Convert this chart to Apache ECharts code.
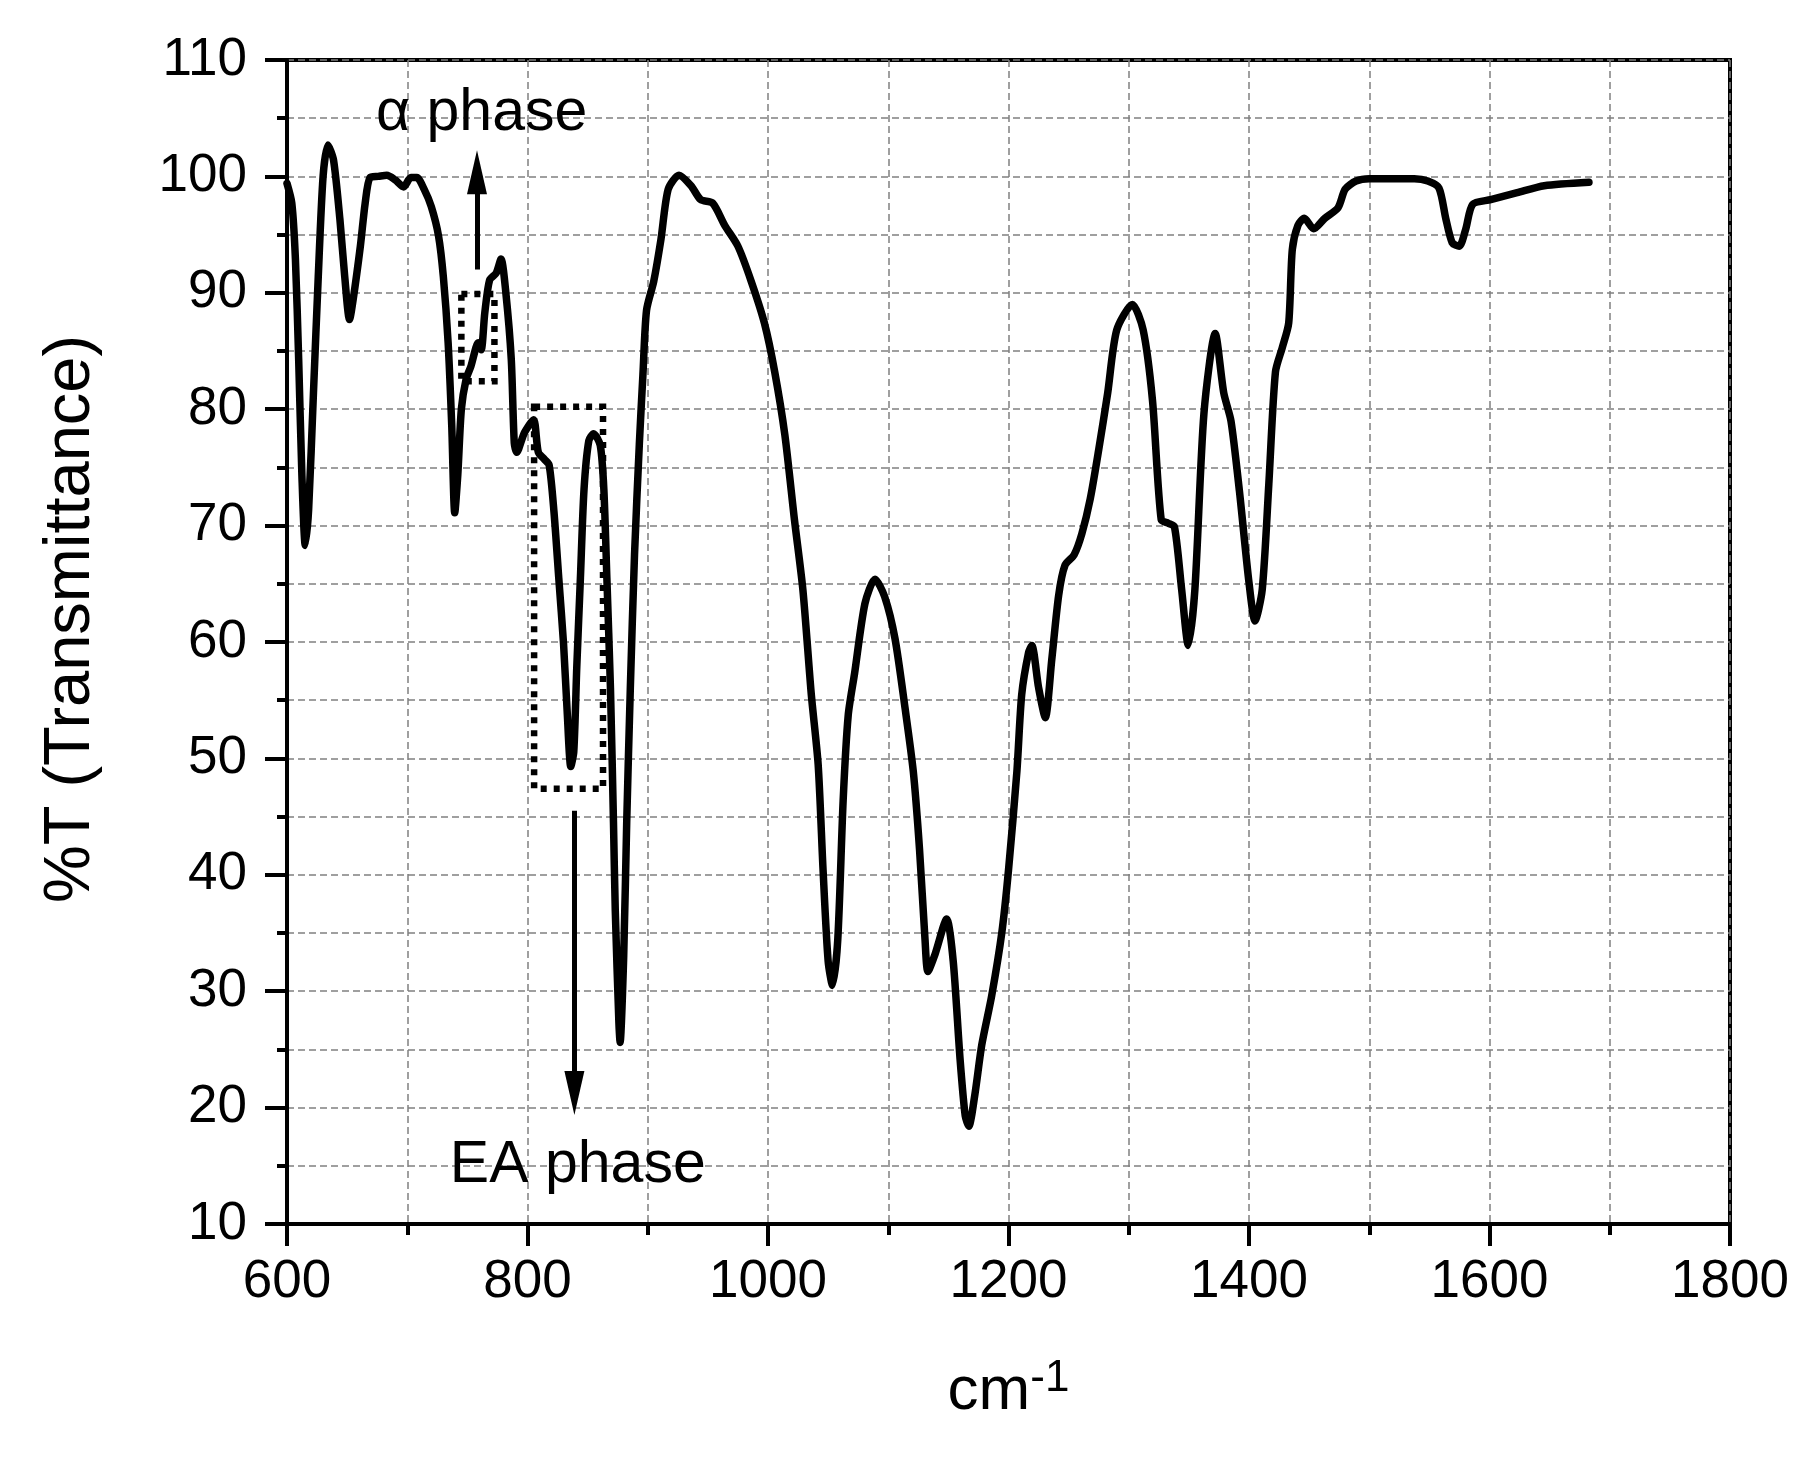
<!DOCTYPE html>
<html><head><meta charset="utf-8">
<script src="https://cdn.jsdelivr.net/npm/echarts@6/dist/echarts.min.js"></script>
<style>html,body{margin:0;padding:0;background:#fff}#c{width:1818px;height:1464px}</style>
</head><body><div id="c"></div>
<script>
// wavenumber (cm-1)
const wavenumber = [600,604,607,609.7,612.4,615.2,618,622,626,630,634,638.7,644,648,652,655,661,665,669,676,683,690,697,703,708,714,720,726,730,734,737,739.5,742,745,749,753,759,761.5,764.5,768.5,774,778,782,786.5,789,791,797.5,805,809,814,818,822,826,830,833,836,838.5,841,844,847,851,855,860.5,863.5,866,869,871.5,873,876,877,880,882.5,885.5,889,893,896,899,905,911,917,926,936,944,954,964,975,986,997,1005.6,1014,1022,1029,1036,1041.7,1045.8,1050,1053.6,1058,1062.5,1066.7,1072,1080.6,1089,1097,1105.6,1114,1120.8,1126,1130.6,1133,1139,1148.6,1154,1159.7,1164,1167,1172,1177.8,1186,1194.4,1200,1207,1211,1216.7,1219.4,1225,1230.6,1236,1241.7,1247,1254.6,1261,1268,1275,1282.5,1290,1303,1312,1319.7,1327,1332.8,1338,1344,1349.5,1355,1362.5,1371.9,1379,1385,1392,1400,1405,1411,1416.5,1422,1427.7,1433,1436,1440.7,1446,1453.8,1463,1474,1480,1489,1500,1537.5,1548.7,1558,1563.6,1569,1574.8,1580.3,1586,1601,1623,1645.5,1682.7];
// %T values
const transmittance = [99.4,97.7,92.9,84.3,74.3,68.3,71.4,81.4,91.4,100,102.7,101.4,96.3,91.4,87.7,89.4,94,97.7,99.9,100,100.1,99.7,99.1,99.9,99.9,98.9,97.4,94.9,91.4,85.7,78.6,71.1,74.3,80,82.6,83.7,85.7,85.1,88.3,91.1,91.7,92.9,90,84.3,77.1,76.3,78,79.1,76.3,75.7,75.2,71.2,65.5,59.8,54,49.3,50.6,57.9,65.5,73.1,77.3,77.9,76.9,73.1,65.5,56,44.5,36.9,27.3,25.6,33,44.5,56,67.5,77,83,88.5,91,94.6,98.9,100.1,99.2,98,97.7,95.8,94,91,87.4,83.2,77.8,70.5,64.5,55.5,49.5,40.4,32.6,30.5,34.4,46.4,53.7,57.3,63.3,65.4,63.9,60.3,54.3,48.9,42.2,34.4,31.7,33.2,36.2,32.6,24.2,19.3,18.4,21.1,25.4,29.6,35,40.4,48.9,55.5,59.1,59.7,56.1,53.5,58.5,64,66.6,67.5,69.3,72.3,76.5,81.4,86.8,89,86.8,80.8,70.5,70.2,69.9,64.5,59.7,64.5,79.6,86.5,81.4,79,73,65.1,61.8,64.5,73.6,83.2,85.3,87.4,93.7,95.8,96.4,95.5,96.4,97.3,98.9,99.6,99.8,99.8,99.6,99,96.4,94.3,94,95.5,97.6,98,98.6,99.2,99.5];

const xTickLabels = [600,800,1000,1200,1400,1600,1800];
const yTickLabels = [10,20,30,40,50,60,70,80,90,100,110];

// annotations (data coordinates)
const alphaBox = [[745, 89.9], [772.5, 82.4]];
const eaBox = [[805.5, 80.2], [862.8, 47.4]];
const alphaArrow = [[758, 92], [758, 100.35]];
const eaArrow = [[839, 45.5], [839, 21.25]];
const arrowHeads = [
  {value: [758, 100.35], symbolRotate: 0},
  {value: [839, 21.25], symbolRotate: 180}
];
const annotationTexts = [
  {name: 'α phase', value: [761.9, 105.4]},
  {name: 'EA phase', value: [841.8, 15.0]}
];

const FONT = 'Liberation Sans, Arial, sans-serif';
const gridLine = {show: true, lineStyle: {color: '#808080', width: 1.5, type: [7, 4]}};

const chart = echarts.init(document.getElementById('c'), null, {renderer: 'canvas'});
chart.setOption({
  animation: false,
  backgroundColor: '#fff',
  grid: {left: 287, right: 88, top: 60, bottom: 240, show: true, borderColor: '#000', borderWidth: 4, containLabel: false},
  xAxis: {
    type: 'value',
    min: xTickLabels[0], max: xTickLabels[xTickLabels.length - 1],
    interval: xTickLabels[1] - xTickLabels[0],
    axisLine: {show: true, onZero: false, lineStyle: {color: '#000', width: 4}},
    axisTick: {show: true, inside: false, length: 22, lineStyle: {color: '#000', width: 4}},
    minorTick: {show: true, splitNumber: 2, length: 11, lineStyle: {color: '#000', width: 4}},
    splitLine: gridLine,
    minorSplitLine: gridLine,
    axisLabel: {fontSize: 53, color: '#000', fontFamily: FONT, margin: 32, formatter: v => String(v)},
    name: '{a|cm}{b|-1}',
    nameLocation: 'middle',
    nameGap: 133,
    nameTextStyle: {
      fontFamily: FONT, color: '#000',
      rich: {
        a: {fontSize: 62, fontFamily: FONT, color: '#000', lineHeight: 70},
        b: {fontSize: 44, fontFamily: FONT, color: '#000', lineHeight: 22, verticalAlign: 'top'}
      }
    }
  },
  yAxis: {
    type: 'value',
    min: yTickLabels[0], max: yTickLabels[yTickLabels.length - 1],
    interval: yTickLabels[1] - yTickLabels[0],
    axisLine: {show: true, onZero: false, lineStyle: {color: '#000', width: 4}},
    axisTick: {show: true, inside: false, length: 22, lineStyle: {color: '#000', width: 4}},
    minorTick: {show: true, splitNumber: 2, length: 10, lineStyle: {color: '#000', width: 4}},
    splitLine: gridLine,
    minorSplitLine: gridLine,
    axisLabel: {fontSize: 53, color: '#000', fontFamily: FONT, margin: 40, formatter: v => String(v)},
    name: '%T (Transmittance)',
    nameLocation: 'middle',
    nameGap: 183,
    nameTextStyle: {fontSize: 65, fontFamily: FONT, color: '#000', padding: [0, 0, 0, 46]}
  },
  series: [
    {
      type: 'line',
      data: wavenumber.map((w, i) => [w, transmittance[i]]),
      showSymbol: false,
      smooth: 0.25,
      lineStyle: {color: '#000', width: 7.5, cap: 'round', join: 'round'},
      silent: true,
      z: 5,
      markArea: {
        silent: true,
        itemStyle: {color: 'rgba(0,0,0,0)', borderColor: '#000', borderWidth: 6.5, borderType: [6, 7]},
        data: [
          [{coord: alphaBox[0]}, {coord: alphaBox[1]}],
          [{coord: eaBox[0]}, {coord: eaBox[1]}]
        ]
      },
      markLine: {
        silent: true,
        symbol: ['none', 'none'],
        label: {show: false},
        lineStyle: {color: '#000', width: 5, type: 'solid'},
        data: [
          [{coord: alphaArrow[0]}, {coord: alphaArrow[1]}],
          [{coord: eaArrow[0]}, {coord: eaArrow[1]}]
        ]
      }
    },
    {
      type: 'scatter',
      data: arrowHeads,
      symbol: 'triangle',
      symbolSize: [20, 44],
      itemStyle: {color: '#000', opacity: 1},
      silent: true,
      z: 6
    },
    {
      type: 'scatter',
      data: annotationTexts,
      symbolSize: 0,
      silent: true,
      z: 6,
      itemStyle: {color: '#000'},
      label: {
        show: true, position: 'inside', formatter: p => p.name,
        fontSize: 59, fontFamily: FONT, color: '#000',
        textBorderWidth: 0, textBorderColor: 'transparent', opacity: 1
      }
    }
  ]
});
</script>
</body></html>
